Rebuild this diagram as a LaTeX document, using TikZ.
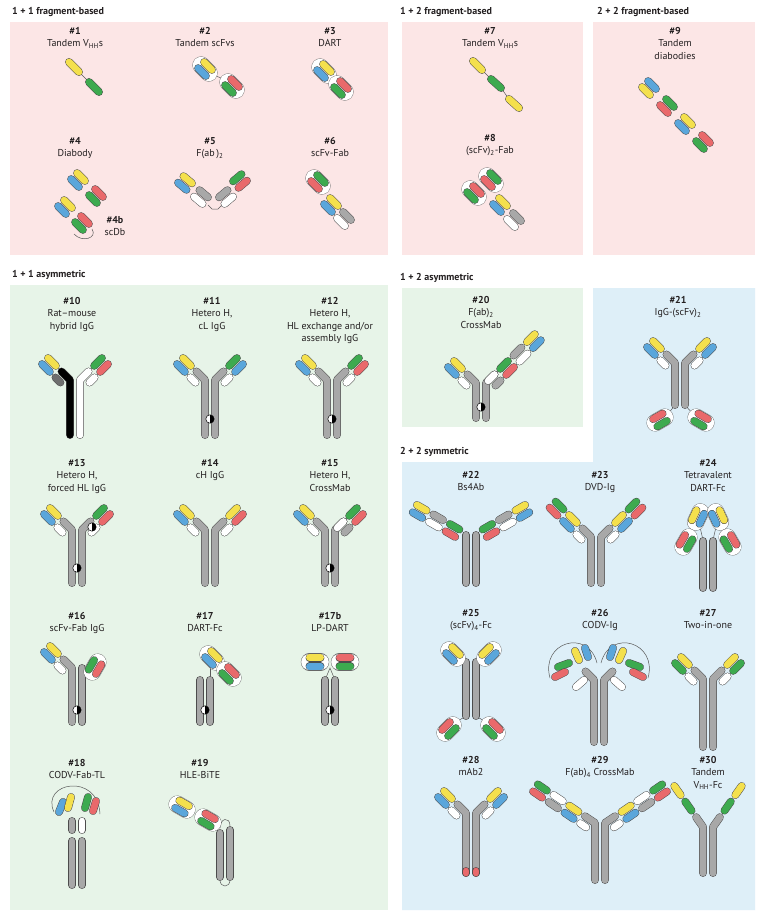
\documentclass[tikz,border=0pt]{standalone}
\usepackage{fontspec}
\setmainfont{PT Sans}
\definecolor{cY}{HTML}{F4E04D}
\definecolor{cG}{HTML}{3DAA4F}
\definecolor{cB}{HTML}{5AA6DB}
\definecolor{cR}{HTML}{E9696B}
\definecolor{cH}{HTML}{A8A8A8}
\definecolor{cW}{HTML}{FFFFFF}
\definecolor{cK}{HTML}{6E6E6E}
\definecolor{pinkbg}{HTML}{FCE6E6}
\definecolor{greenbg}{HTML}{E7F4E8}
\definecolor{bluebg}{HTML}{DEEFF8}
\definecolor{txt}{HTML}{231F20}
\tikzset{
 dm/.style={draw=black!70, line width=0.5pt, double=#1, double distance=6.8pt, line cap=round, line join=round},
 sv/.style={draw=black!60, line width=0.4pt, double=white, double distance=16.6pt, line cap=round},
 lk/.style={draw=black!65, line width=0.5pt},
 lab/.style={align=center, font=\fontsize{10}{12.5}\selectfont, inner sep=0pt, anchor=north, text=txt},
 ttl/.style={font=\bfseries\fontsize{10}{12}\selectfont, inner sep=0pt, anchor=west, text=txt}
}
\newcommand\abD[5]{\draw[dm=#1] (#2,-#3)--(#4,-#5);}
\newcommand\abPr[5]{\begin{scope}[shift={(#1,-#2)},rotate=#3]
 \draw[dm=#4] (-5.5,4.25)--(5.5,4.25); \draw[dm=#5] (-5.5,-4.25)--(5.5,-4.25);\end{scope}}
\newcommand\abSv[5]{\begin{scope}[shift={(#1,-#2)},rotate=#3]
 \draw[sv] (-5.5,0)--(5.5,0);
 \draw[dm=#4] (-5.5,4.25)--(5.5,4.25); \draw[dm=#5] (-5.5,-4.25)--(5.5,-4.25);\end{scope}}
\newcommand\abDt[6]{\begin{scope}[shift={({#1},{-(#2)})},rotate=#3]\draw[dm=#6] ({#4},{#5})--({#4+11},{#5});\end{scope}}
\newcommand\abHC[5]{\draw[dm=#5] ({#1},{-(#3)})--({#1},{-(#2)})--++(#4:12);}
\newcommand\abFab[7]{\begin{scope}[shift={({#1},{-(#2)})},rotate=#3]
 \draw[dm=#5] (20,0)--(31,0);
 \draw[dm=#6] (5,{8.5*#4})--(12,{8.5*#4});
 \draw[dm=#7] (20,{8.5*#4})--(31,{8.5*#4});\end{scope}}
\newcommand\abExt[7]{\abDt{#1}{#2}{#3}{#5}{0}{#6}\abDt{#1}{#2}{#3}{#5}{8.5*#4}{#7}}
\def\abAL{135}\def\abAR{45}
\newcommand\abIgG[9]{\abHC{#1-5}{#2}{#3}{\abAL}{cH}\abHC{#1+5}{#2}{#3}{\abAR}{cH}%
 \abFab{#1-5}{#2}{\abAL}{1}{#4}{#5}{#6}\abFab{#1+5}{#2}{\abAR}{-1}{#7}{#8}{#9}}
\newcommand\abKn[2]{\begin{scope}[shift={(#1,-#2)}]\fill[white] (0,0) circle (4.2);
 \fill[black] (0,-4.2) arc (-90:90:4.2) -- cycle; \draw[line width=0.5pt] (0,0) circle (4.2);\end{scope}}
\begin{document}
\begin{tikzpicture}[x=1pt,y=1pt]
\useasboundingbox (0,0) rectangle (768,-919);
\fill[white] (0,0) rectangle (768,-919);
% backgrounds
\fill[pinkbg] (10,-22) rectangle (388,-255);
\fill[pinkbg] (402,-22) rectangle (583,-255);
\fill[pinkbg] (593,-22) rectangle (755,-255);
\fill[greenbg] (10,-285) rectangle (388,-910);
\fill[greenbg] (402,-288) rectangle (583,-427);
\fill[bluebg] (593,-288) -- (755,-288) -- (755,-910) -- (402,-910) -- (402,-462) -- (593,-462) -- cycle;
% titles
\node[ttl] (t1) at (12,-12) {1 + 1 fragment-based};
\node[ttl] (t2) at (400,-12) {1 + 2 fragment-based};
\node[ttl] (t3) at (597,-12) {2 + 2 fragment-based};
\node[ttl] (t4) at (12,-275) {1 + 1 asymmetric};
\node[ttl] (t5) at (400,-278) {1 + 2 asymmetric};
\node[ttl] (t6) at (400,-452) {2 + 2 symmetric};
% labels
\node[lab] (l1) at (75,-27) {\textbf{\#1}\\Tandem V\textsubscript{HH}s};
\node[lab] (l2) at (205,-27) {\textbf{\#2}\\Tandem scFvs};
\node[lab] (l3) at (330,-27) {\textbf{\#3}\\DART};
\node[lab] (l4) at (75,-137) {\textbf{\#4}\\Diabody};
\node[lab] (l5) at (210,-137) {\textbf{\#5}\\F(ab\,)\textsubscript{2}};
\node[lab] (l6) at (330,-137) {\textbf{\#6}\\scFv-Fab};
\node[lab] (l4b) at (115,-216) {\textbf{\#4b}\\scDb};
\node[lab] (l7) at (490,-27) {\textbf{\#7}\\Tandem V\textsubscript{HH}s};
\node[lab] (l8) at (490,-134) {\textbf{\#8}\\(scFv)\textsubscript{2}-Fab};
\node[lab] (l9) at (675,-27) {\textbf{\#9}\\Tandem\\diabodies};
\node[lab] (l10) at (72,-297) {\textbf{\#10}\\Rat–mouse\\hybrid IgG};
\node[lab] (l11) at (212,-297) {\textbf{\#11}\\Hetero H,\\cL IgG};
\node[lab] (l12) at (330,-297) {\textbf{\#12}\\Hetero H,\\HL exchange and/or\\assembly IgG};
\node[lab] (l13) at (77,-459) {\textbf{\#13}\\Hetero H,\\forced HL IgG};
\node[lab] (l14) at (210,-459) {\textbf{\#14}\\cH IgG};
\node[lab] (l15) at (330,-459) {\textbf{\#15}\\Hetero H,\\CrossMab};
\node[lab] (l16) at (77,-612) {\textbf{\#16}\\scFv-Fab IgG};
\node[lab] (l17) at (205,-612) {\textbf{\#17}\\DART-Fc};
\node[lab] (l17b) at (330,-612) {\textbf{\#17b}\\LP-DART};
\node[lab] (l18) at (77,-759) {\textbf{\#18}\\CODV-Fab-TL};
\node[lab] (l19) at (200,-759) {\textbf{\#19}\\HLE-BiTE};
\node[lab] (l20) at (481,-296) {\textbf{\#20}\\F(ab)\textsubscript{2}\\CrossMab};
\node[lab] (l21) at (678,-296) {\textbf{\#21}\\IgG-(scFv)\textsubscript{2}};
\node[lab] (l22) at (471,-471) {\textbf{\#22}\\Bs4Ab};
\node[lab] (l23) at (600,-471) {\textbf{\#23}\\DVD-Ig};
\node[lab] (l24) at (708,-459) {\textbf{\#24}\\Tetravalent\\DART-Fc};
\node[lab] (l25) at (471,-609) {\textbf{\#25}\\(scFv)\textsubscript{4}-Fc};
\node[lab] (l26) at (600,-609) {\textbf{\#26}\\CODV-Ig};
\node[lab] (l27) at (708,-609) {\textbf{\#27}\\Two-in-one};
\node[lab] (l28) at (471,-756) {\textbf{\#28}\\mAb2};
\node[lab] (l29) at (600,-756) {\textbf{\#29}\\F(ab)\textsubscript{4} CrossMab};
\node[lab] (l30) at (708,-756) {\textbf{\#30}\\Tandem\\V\textsubscript{HH}-Fc};
% #1
\draw[lk] (79,-72)--(89,-82);
\abD{cY}{69}{62}{79}{72}\abD{cG}{89}{82}{99}{92}
% #2
\draw[lk] (209,-73)--(228,-81);
\abSv{205}{69}{-45}{cY}{cB}\abSv{232}{86}{-45}{cR}{cG}
% #3
\abSv{324}{71}{-45}{cY}{cB}\abSv{341}{88}{-45}{cR}{cG}
% #4
\abPr{78}{180}{-45}{cY}{cB}\abPr{96}{196}{-45}{cR}{cG}
% #4b
\draw[lk] (92,-229) .. controls (98,-238) and (82,-243) .. (74,-234);
\abPr{65}{207}{-45}{cY}{cB}\abPr{82}{223}{-45}{cR}{cG}
% #5
\draw[lk] (208,-205)--(212,-209)--(218,-209)--(222,-205);
\abPr{185}{183}{-40}{cY}{cB}\abPr{201}{197}{-40}{cH}{cW}
\abPr{240}{181}{220}{cR}{cG}\abPr{226}{197}{220}{cW}{cH}
% #6
\abSv{318}{182}{-45}{cG}{cR}\abPr{331}{205}{-45}{cY}{cB}\abPr{344}{219}{-45}{cH}{cW}
% #7
\draw[lk] (482,-70)--(491,-79) (501,-88)--(509,-99);
\abD{cY}{473}{61}{482}{70}\abD{cG}{491}{79}{501}{88}\abD{cY}{509}{99}{519}{108}
% #8
\abSv{491}{180}{-45}{cG}{cR}\abSv{474}{193}{-45}{cR}{cG}
\abPr{500}{205}{-45}{cY}{cB}\abPr{514}{220}{-45}{cH}{cW}
% #9
\abPr{649}{88}{-45}{cB}{cY}\abPr{667}{106}{-45}{cG}{cR}\abPr{685}{124}{-45}{cY}{cB}\abPr{703}{142}{-45}{cR}{cG}
% #10
\abHC{70}{380}{435}{135}{black}\abHC{80}{380}{435}{45}{cW}
\abFab{70}{380}{135}{1}{cY}{cK}{cB}\abFab{80}{380}{45}{-1}{cG}{cW}{cR}
% #11
\abIgG{210}{380}{435}{cY}{cW}{cB}{cG}{cW}{cB}\abKn{210}{419}
% #12
\abIgG{332}{380}{435}{cY}{cW}{cB}{cG}{cW}{cR}\abKn{332}{419}
% #13
\abIgG{77}{530}{583}{cY}{cW}{cB}{cG}{cW}{cR}\abKn{77}{568}\abKn{92}{527}
% #14
\abIgG{210}{530}{583}{cY}{cW}{cB}{cY}{cW}{cR}
% #15
\abHC{325}{530}{583}{135}{cH}\abHC{335}{530}{583}{45}{cH}
\begin{scope}[shift={(335,-530)},rotate=45]\draw[dm=cW] (3,0)--(12,0);\end{scope}
\abFab{325}{530}{135}{1}{cY}{cW}{cB}\abFab{335}{530}{45}{-1}{cG}{cH}{cR}\abKn{330}{568}
% #16
\abHC{72}{668}{722}{135}{cH}\abFab{72}{668}{135}{1}{cY}{cW}{cB}
\draw[dm=cH] (82,-722)--(82,-668);
\abSv{95}{667}{60}{cG}{cR}\abKn{77}{710}
% #17
\draw[lk] (210,-678)--(210,-668);
\draw[dm=cH] (200,-722)--(200,-680);\draw[dm=cH] (210,-722)--(210,-680);
\abSv{212}{658}{-45}{cY}{cB}\abSv{229}{674}{-45}{cR}{cG}\abKn{205}{710}
% #17b
\draw[lk] (325,-680)--(330,-668)--(335,-680);
\draw[dm=cH] (325,-722)--(325,-680);\draw[dm=cH] (335,-722)--(335,-680);
\abSv{315}{662}{0}{cY}{cB}\abSv{345}{662}{0}{cR}{cG}\abKn{330}{710}
% #18
\draw[lk] (54,-812) .. controls (40,-782) and (98,-772) .. (100,-814);
\draw[dm=cH] (72,-885)--(72,-841);\draw[dm=cH] (82,-885)--(82,-841);
\draw[dm=cH] (72,-830)--(72,-821);\draw[dm=cW] (82,-830)--(82,-821);
\abD{cB}{59}{812}{63}{802}\abD{cY}{68}{808}{71}{797}\abD{cG}{85}{808}{88}{797}\abD{cR}{93}{811}{96}{801}
% #19
\draw[lk] (214,-826)--(220,-832);
\draw[lk] (220,-828) .. controls (220,-818) and (230,-816) .. (230,-826);
\draw[lk] (220,-880) .. controls (220,-888) and (230,-888) .. (230,-880);
\abSv{182}{807}{-30}{cY}{cB}\abSv{208}{820}{-30}{cR}{cG}
\draw[dm=cH] (220,-877)--(220,-833);\draw[dm=cH] (230,-877)--(230,-830);
% #20
\abHC{476}{383}{418}{135}{cH}\abHC{486}{383}{418}{45}{cH}
\begin{scope}[shift={(486,-383)},rotate=45]\draw[dm=cW] (3,0)--(12,0);\end{scope}
\abFab{476}{383}{135}{1}{cY}{cW}{cB}\abFab{486}{383}{45}{-1}{cG}{cH}{cR}
\abExt{486}{383}{45}{-1}{39}{cH}{cW}\abExt{486}{383}{45}{-1}{58}{cY}{cB}
\abKn{481}{407}
% #21
\draw[lk] (675,-405)--(668,-414) (685,-405)--(693,-414);
\abIgG{680}{363}{405}{cY}{cW}{cB}{cY}{cW}{cB}
\abSv{660}{420}{210}{cG}{cR}\abSv{701}{420}{330}{cR}{cG}
% #22
\draw[dm=cH] (466,-583)--(466,-535);\draw[dm=cH] (476,-583)--(476,-535);
\abExt{462}{531}{150}{1}{3}{cG}{cR}\abExt{462}{531}{150}{1}{22}{cH}{cW}\abExt{462}{531}{150}{1}{41}{cY}{cB}
\abExt{480}{531}{30}{-1}{3}{cG}{cR}\abExt{480}{531}{30}{-1}{22}{cH}{cW}\abExt{480}{531}{30}{-1}{41}{cY}{cB}
% #23
\abIgG{596}{537}{583}{cY}{cW}{cB}{cY}{cW}{cB}
\abExt{591}{537}{135}{1}{39}{cG}{cR}\abExt{601}{537}{45}{-1}{39}{cG}{cR}
% #24
\draw[lk] (703,-540)--(700,-527) (713,-540)--(716,-527) (696,-524)--(688,-532) (720,-524)--(728,-532);
\draw[dm=cH] (703,-588)--(703,-541);\draw[dm=cH] (713,-588)--(713,-541);
\abSv{698}{517}{65}{cY}{cB}\abSv{686}{542}{60}{cR}{cG}
\abSv{718}{517}{115}{cB}{cY}\abSv{730}{542}{120}{cG}{cR}
% #25
\draw[lk] (466,-662)--(458,-658) (476,-662)--(484,-658) (466,-716)--(453,-724) (476,-716)--(489,-724);
\draw[dm=cH] (466,-716)--(466,-662);\draw[dm=cH] (476,-716)--(476,-662);
\abSv{453}{654}{135}{cB}{cY}\abSv{489}{654}{45}{cY}{cB}
\abSv{449}{729}{225}{cG}{cR}\abSv{493}{729}{315}{cR}{cG}
% #26
\draw[lk] (550,-678) .. controls (540,-642) and (588,-628) .. (597,-663);
\draw[lk] (648,-678) .. controls (658,-642) and (610,-628) .. (601,-663);
\abHC{594}{680}{742}{135}{cH}\abHC{604}{680}{742}{45}{cH}
\abD{cY}{579}{660}{575}{651}\abD{cB}{588}{657}{585}{648}
\abD{cW}{576}{687}{584}{680}\abD{cG}{558}{667}{569}{663}\abD{cR}{555}{677}{565}{672}
\abD{cY}{619}{660}{623}{651}\abD{cB}{610}{657}{613}{648}
\abD{cW}{622}{687}{614}{680}\abD{cG}{640}{667}{629}{663}\abD{cR}{643}{677}{633}{672}
% #27
\abIgG{708}{679}{747}{cY}{cW}{cG}{cY}{cW}{cG}
% #28
\abIgG{471}{813}{873}{cY}{cW}{cB}{cY}{cW}{cB}
\draw[dm=cR] (466,-873)--(466,-871);\draw[dm=cR] (476,-873)--(476,-871);
% #29
{\def\abAL{146}\def\abAR{34}
\abIgG{600}{823}{880}{cY}{cW}{cB}{cY}{cW}{cB}
\abExt{595}{823}{146}{1}{39}{cW}{cH}\abExt{595}{823}{146}{1}{58}{cG}{cR}
\abExt{605}{823}{34}{-1}{39}{cW}{cH}\abExt{605}{823}{34}{-1}{58}{cG}{cR}}
% #30
\abHC{703}{827}{873}{125}{cH}\abHC{713}{827}{873}{55}{cH}
\abDt{703}{827}{125}{20}{0}{cG}\abDt{703}{827}{125}{39}{0}{cY}
\abDt{713}{827}{55}{20}{0}{cG}\abDt{713}{827}{55}{39}{0}{cY}
\end{tikzpicture}
\end{document}
